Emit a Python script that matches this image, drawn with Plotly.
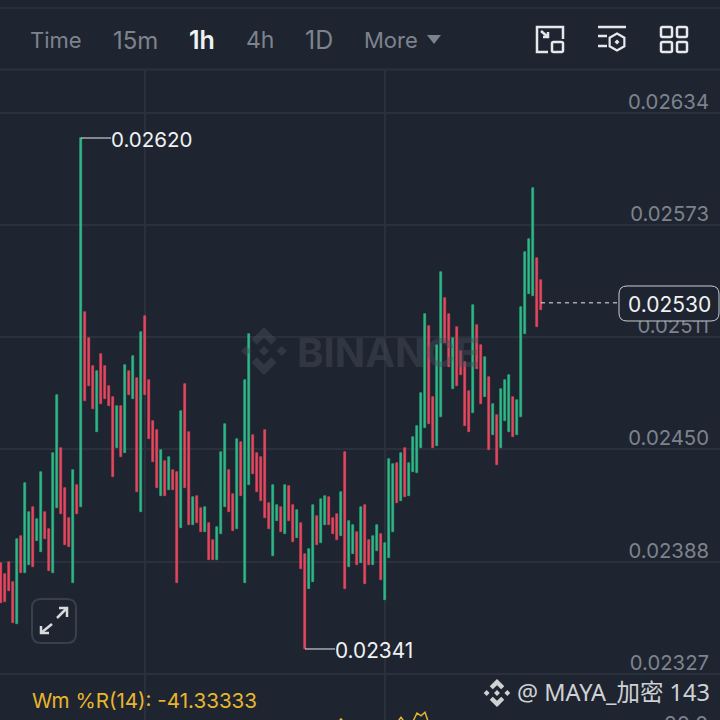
import math
import plotly.graph_objects as go

BG = '#1f2530'
GRID = '#2b313c'
GREY = '#7d838d'
UP = '#2eb886'
DOWN = '#e8475f'
SIZE = 720

# one candle every hour, oldest first, drawn high to low
highs = [
    0.023880, 0.023820, 0.023885, 0.023776, 0.024011, 0.024027, 0.024316, 0.024158, 0.024185, 0.024120,
    0.024376, 0.024158, 0.024065, 0.024480, 0.024797, 0.024507, 0.024289, 0.024125, 0.024387, 0.024305,
    0.026200, 0.025250, 0.025108, 0.024955, 0.024928, 0.025021, 0.024955, 0.024846, 0.024786, 0.024737,
    0.024737, 0.024961, 0.024928, 0.025010, 0.024890, 0.025141, 0.025228, 0.024879, 0.024655, 0.024606,
    0.024497, 0.024436, 0.024458, 0.024387, 0.024376, 0.024709, 0.024857, 0.024595, 0.024240, 0.024245,
    0.024180, 0.024185, 0.024098, 0.024005, 0.024076, 0.024486, 0.024638, 0.024387, 0.024256, 0.024557,
    0.024540, 0.024879, 0.025130, 0.024578, 0.024480, 0.024458, 0.024606, 0.024207, 0.024305, 0.024196,
    0.024185, 0.024305, 0.024300, 0.024196, 0.024169, 0.024098, 0.023929, 0.023956, 0.024196, 0.024136,
    0.024229, 0.024245, 0.024240, 0.024125, 0.024147, 0.024267, 0.024486, 0.024109, 0.024087, 0.024049,
    0.024185, 0.024196, 0.024005, 0.024027, 0.024087, 0.024038, 0.023989, 0.024447, 0.024420, 0.024426,
    0.024480, 0.024507, 0.024426, 0.024568, 0.024628, 0.024808, 0.025239, 0.025174, 0.024786, 0.025070,
    0.025468, 0.025326, 0.025239, 0.025108, 0.025168, 0.025037, 0.024977, 0.024819, 0.025288, 0.025179,
    0.025070, 0.025004, 0.024895, 0.024748, 0.024688, 0.024830, 0.024879, 0.024906, 0.024786, 0.024770,
    0.025277, 0.025578, 0.025649, 0.025927, 0.025545, 0.025425,
]
lows = [
    0.023661, 0.023667, 0.023727, 0.023552, 0.023546, 0.023825, 0.023825, 0.023869, 0.023858, 0.024000,
    0.023940, 0.024011, 0.023836, 0.023825, 0.024180, 0.024147, 0.023978, 0.023967, 0.023770, 0.024147,
    0.024185, 0.024764, 0.024846, 0.024720, 0.024595, 0.024748, 0.024775, 0.024737, 0.024349, 0.024507,
    0.024458, 0.024480, 0.024797, 0.024775, 0.024267, 0.024158, 0.024797, 0.024557, 0.024431, 0.024289,
    0.024245, 0.024245, 0.024278, 0.024278, 0.023770, 0.024071, 0.024289, 0.024087, 0.024087, 0.024098,
    0.024049, 0.024049, 0.023896, 0.023896, 0.023896, 0.024038, 0.024185, 0.024158, 0.024054, 0.024065,
    0.024245, 0.023770, 0.024305, 0.024365, 0.024267, 0.024218, 0.024125, 0.024065, 0.023918, 0.024109,
    0.024049, 0.024038, 0.024109, 0.023994, 0.024016, 0.023847, 0.023410, 0.023738, 0.023776, 0.023978,
    0.023989, 0.024087, 0.024087, 0.024038, 0.024005, 0.024027, 0.023738, 0.023858, 0.023929, 0.023869,
    0.023880, 0.023765, 0.023869, 0.023869, 0.023945, 0.023787, 0.023677, 0.023907, 0.024049, 0.024207,
    0.024218, 0.024240, 0.024245, 0.024376, 0.024371, 0.024507, 0.024617, 0.024638, 0.024507, 0.024518,
    0.024677, 0.025081, 0.024950, 0.024830, 0.024846, 0.024906, 0.024628, 0.024595, 0.024699, 0.024939,
    0.024748, 0.024786, 0.024497, 0.024578, 0.024415, 0.024507, 0.024655, 0.024595, 0.024568, 0.024578,
    0.024677, 0.025130, 0.025348, 0.025337, 0.025168, 0.025261,
]
# g = closed up, r = closed down
directions = (
    'rrrrgrggrggrrggrrrgr'
    'grrrgrrrrgrgrgrgrrrr'
    'grgrrgrrgrrgrrgggrrg'
    'rggrrrrrggrgrrgrrgg'
    'rggrrrgrggrgrrggrggg'
    'rgrggggg'
    'rrgg'
    'rrgrrrrgrrgrgrgggrgg'
    'gggrr'
)

price_ticks = [0.026337, 0.025725, 0.025113, 0.024502, 0.023885, 0.023273]
price_labels = ['0.02634', '0.02573', '0.02511', '0.02450', '0.02388', '0.02327']
time_grid = [36, 96]
high_idx, high_price, high_label = 20, 0.02620, '0.02620'
low_idx, low_price, low_label = 76, 0.02341, '0.02341'
last_price, last_label = 0.02530, '0.02530'

# the top of the %R panel that is left at the bottom edge
wmr_idx = [84, 85, 86, 98, 99, 100, 101, 102, 103, 104, 105, 106, 107, 108]
wmr_val = [-25, -18.5, -25, -26, -24, -16, -24, -26, -22, -10, -14, -9, -26, -30]

tf_labels = ['Time', '15m', '1h', '4h', '1D', 'More']
tf_left = [29, 112, 188, 245, 304, 363]
tf_size = [22, 24, 25, 23, 25, 22]

ymin, ymax = 0.02302228, 0.02695348
label_shift = 0.0000164
xmin, xmax = -0.25, 179.75


def px(x):
    return x / SIZE


def py(y):
    return 1 - y / SIZE


def line(x0, y0, x1, y1, color, width=1, dash='solid'):
    return dict(type='line', xref='paper', yref='paper', x0=px(x0), y0=py(y0), x1=px(x1), y1=py(y1),
                line=dict(color=color, width=width, dash=dash))


def path(points, color, width=2.5, fill=None, close=False):
    d = 'M' + ' L'.join('%.5f,%.5f' % (px(a), py(b)) for a, b in points)
    if close:
        d += ' Z'
    return dict(type='path', xref='paper', yref='paper', path=d,
                line=dict(color=color, width=width), fillcolor=fill)


def round_rect(x0, y0, x1, y1, r, color, width=2.5, fill=None):
    a = lambda x, y: '%.5f,%.5f' % (px(x), py(y))
    d = ('M' + a(x0 + r, y0) + ' L' + a(x1 - r, y0) + ' Q' + a(x1, y0) + ' ' + a(x1, y0 + r)
         + ' L' + a(x1, y1 - r) + ' Q' + a(x1, y1) + ' ' + a(x1 - r, y1)
         + ' L' + a(x0 + r, y1) + ' Q' + a(x0, y1) + ' ' + a(x0, y1 - r)
         + ' L' + a(x0, y0 + r) + ' Q' + a(x0, y0) + ' ' + a(x0 + r, y0) + ' Z')
    return dict(type='path', xref='paper', yref='paper', path=d,
                line=dict(color=color, width=width), fillcolor=fill)


def logo(cx, cy, r, color):
    # four small diamonds round a centre one, plus the two chevrons
    out = []
    s = r * 0.21
    for dx, dy in [(0, 0), (-r * 0.74, 0), (r * 0.74, 0)]:
        out.append(path([(cx + dx, cy + dy - s), (cx + dx + s, cy + dy), (cx + dx, cy + dy + s),
                         (cx + dx - s, cy + dy)], color, 0, color, True))
    for sign in [-1, 1]:
        out.append(path([(cx, cy + sign * r), (cx + r * 0.52, cy + sign * r * 0.48),
                         (cx + r * 0.30, cy + sign * r * 0.26), (cx, cy + sign * r * 0.56),
                         (cx - r * 0.30, cy + sign * r * 0.26), (cx - r * 0.52, cy + sign * r * 0.48)],
                        color, 0, color, True))
    return out


bar_colors = [UP if d == 'g' else DOWN for d in directions]

fig = go.Figure()
fig.add_trace(go.Bar(
    x=list(range(len(highs))),
    y=[h - l for h, l in zip(highs, lows)],
    base=lows,
    width=0.5,
    marker=dict(color=bar_colors, line=dict(color=bar_colors, width=0.6)),
    hoverinfo='skip',
))
fig.add_trace(go.Scatter(x=wmr_idx, y=wmr_val, yaxis='y2', mode='lines',
                         line=dict(color='#e8b62e', width=1.5), hoverinfo='skip'))
# carries the price labels, which sit a little lower than plotly puts them
fig.add_trace(go.Scatter(x=time_grid[:1] * len(price_ticks), y=price_ticks, yaxis='y3', mode='none', hoverinfo='skip'))

shapes = []
# header covers the vertical grid
shapes.append(dict(type='rect', xref='paper', yref='paper', x0=0, x1=1, y0=py(69), y1=1,
                   fillcolor=BG, line_width=0))
shapes.append(line(0, 8, SIZE, 8, GRID, 1.5))
shapes.append(line(0, 69.5, SIZE, 69.5, GRID, 2))
shapes.append(path([(427, 35), (441, 35), (434, 44)], GREY, 0, GREY, True))

ICON = '#e6e8eb'
# layout icon
shapes.append(path([(563, 39), (563, 27), (537, 27), (537, 52), (548, 52)], ICON))
shapes.append(round_rect(552, 42, 563, 52, 1.5, ICON))
shapes.append(path([(541, 31), (548, 37)], ICON))
shapes.append(path([(543, 37), (548, 37), (548, 32)], ICON))
# settings icon
shapes.append(line(598, 27, 626, 27, ICON, 2.5))
shapes.append(line(598, 36, 607, 36, ICON, 2.5))
shapes.append(line(598, 46, 607, 46, ICON, 2.5))
hexagon = [(617 + 8.5 * math.sin(math.radians(a)), 42 - 8.5 * math.cos(math.radians(a))) for a in range(0, 360, 60)]
shapes.append(path(hexagon, ICON, 2.2, None, True))
shapes.append(path([(617, 39.5), (619.5, 42), (617, 44.5), (614.5, 42)], ICON, 0, ICON, True))
# grid icon
for x0, x1 in [(661, 672), (677, 687)]:
    for y0, y1 in [(27, 37), (42, 52)]:
        shapes.append(round_rect(x0, y0, x1, y1, 1.5, ICON))

# high and low callouts
shapes.append(dict(type='line', xref='x', yref='y', x0=high_idx, x1=high_idx + 7.5, y0=high_price, y1=high_price,
                   line=dict(color='#e8eaed', width=1)))
shapes.append(dict(type='line', xref='x', yref='y', x0=low_idx, x1=low_idx + 7.5, y0=low_price, y1=low_price,
                   line=dict(color='#e8eaed', width=1)))
# last price
shapes.append(dict(type='line', xref='x', yref='y', x0=len(highs) - 1, x1=154.25, y0=last_price, y1=last_price,
                   line=dict(color='#e8eaed', width=1, dash='4px,4px')))
shapes.append(round_rect(619, 286, 719, 321, 8, '#c9ccd1', 1, BG))
# expand button
shapes.append(round_rect(32, 599, 76, 643, 9, '#3a404b', 2, BG))
for pts in [[(57, 618), (67, 608)], [(59, 608), (67, 608), (67, 617)],
            [(52, 624), (41, 633)], [(41, 626), (41, 633), (49, 633)]]:
    shapes.append(path(pts, '#d8dadd', 2.5))
# watermark and attribution marks
shapes += logo(264, 351, 24, 'rgba(72,78,90,0.45)')
shapes += logo(497, 693, 14, '#cfd1d4')

annotations = []


def text(x, y, s, color, size, anchor='left', family='Inter', weight=None):
    annotations.append(dict(xref='paper', yref='paper', x=px(x), y=py(y), text=s, showarrow=False,
                            xanchor=anchor, yanchor='middle', xshift=0, borderpad=0,
                            font=dict(color=color, size=size, family=family, weight=weight)))


for name, left, tf in zip(tf_labels, tf_left, tf_size):
    active = name == '1h'
    text(left, 40, name, '#f0f1f3' if active else GREY, tf, weight=600 if active else 400)

text(110, 140, high_label, '#f0f1f3', 20.5)
text(334, 650, low_label, '#f0f1f3', 20.8)
text(669, 304, last_label, '#f0f1f3', 21, 'center')
text(31, 700, 'Wm %R(14): -41.33333', '#e8b62e', 20.6)
text(711, 692, '@ MAYA_加密 143', '#cfd1d4', 23.5, 'right', 'Noto Sans, Noto Sans CJK SC')
text(709, 724, '20.0', GREY, 21, 'right')
text(296, 352, 'BINANCE', 'rgba(72,78,90,0.45)', 40, weight=700)

fig.update_layout(
    width=SIZE, height=SIZE,
    autosize=False,
    margin=dict(l=0, r=0, t=0, b=0),
    paper_bgcolor=BG,
    plot_bgcolor=BG,
    showlegend=False,
    bargap=0,
    shapes=shapes,
    annotations=annotations,
    xaxis=dict(range=[xmin, xmax], tickmode='array', tickvals=time_grid, showticklabels=False,
               showgrid=True, gridcolor=GRID, gridwidth=1.5, zeroline=False, showline=False, ticks=''),
    yaxis=dict(range=[ymin, ymax], tickmode='array', tickvals=price_ticks, showticklabels=False,
               showgrid=True, gridcolor=GRID, gridwidth=1.5, zeroline=False, showline=False, ticks=''),
    yaxis2=dict(overlaying='y', range=[-20, 1008.6], showticklabels=False, showgrid=False, zeroline=False,
                showline=False, ticks=''),
    yaxis3=dict(overlaying='y', side='right', range=[ymin + label_shift, ymax + label_shift],
                tickmode='array', tickvals=price_ticks, ticktext=price_labels,
                ticklabelposition='inside top', ticklabelstandoff=8, showgrid=False,
                tickfont=dict(color=GREY, size=20.3, family='Inter'), zeroline=False, showline=False, ticks=''),
)

fig.write_html('out.html', config=dict(displayModeBar=False),
               post_script="document.body.style.margin='0';document.body.style.background='%s';" % BG)
